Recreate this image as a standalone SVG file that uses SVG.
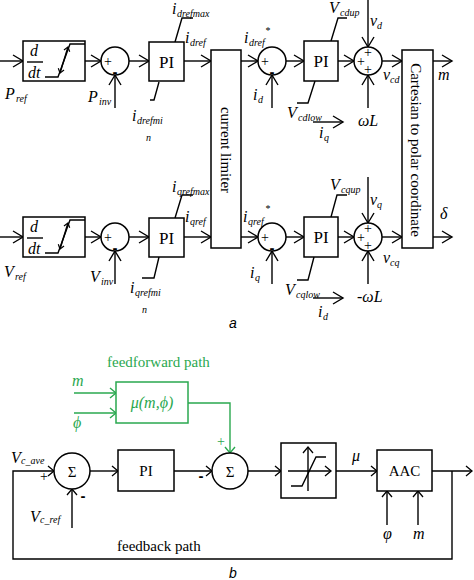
<svg xmlns="http://www.w3.org/2000/svg" width="474" height="580" viewBox="0 0 474 580">
<style>
.ln{stroke:#000;stroke-width:1.4;fill:none}
.bx{stroke:#000;stroke-width:1.5;fill:#fff}
.gl{stroke:#2aa84f;stroke-width:1.4;fill:none}
.gb{stroke:#2aa84f;stroke-width:1.5;fill:#fff}
.t{font-family:"Liberation Serif",serif;font-size:16px;font-style:italic}
.s{font-family:"Liberation Serif",serif;font-size:10px;font-style:italic}
.r{font-family:"Liberation Serif",serif;font-size:17px}
.rb{font-family:"Liberation Serif",serif;font-size:15px}
.sg{font-family:"Liberation Serif",serif;font-size:14px}
.mi{font-family:"Liberation Sans",sans-serif;font-size:15px;font-weight:bold}
.cap{font-family:"Liberation Sans",sans-serif;font-size:14px;font-style:italic}
.g{fill:#2aa84f}
</style>
<defs>
<marker id="ah" viewBox="-11 -7 12 14" refX="0" refY="0" markerWidth="12" markerHeight="14" markerUnits="userSpaceOnUse" orient="auto" overflow="visible"><path d="M-10,-6 L0,0 L-10,6" fill="none" stroke="#000" stroke-width="1.4"/></marker>
<marker id="bh" viewBox="-7 -6 8 12" refX="0" refY="0" markerWidth="8" markerHeight="12" markerUnits="userSpaceOnUse" orient="auto" overflow="visible"><path d="M-6,-5 L0,0 L-6,5" fill="none" stroke="#000" stroke-width="1.3"/></marker>
<marker id="gh" viewBox="-7 -6 8 12" refX="0" refY="0" markerWidth="8" markerHeight="12" markerUnits="userSpaceOnUse" orient="auto" overflow="visible"><path d="M-6,-5 L0,0 L-6,5" fill="none" stroke="#2aa84f" stroke-width="1.4"/></marker>
<marker id="sm" viewBox="-5 -4 6 8" refX="0" refY="0" markerWidth="6" markerHeight="8" markerUnits="userSpaceOnUse" orient="auto-start-reverse" overflow="visible"><path d="M-4,-3 L0,0 L-4,3" fill="none" stroke="#000" stroke-width="1.2"/></marker>
</defs>

<!-- ===== Part a : connectors ===== -->
<g id="connectors-a" class="ln">
<line x1="0" y1="61" x2="23" y2="61" marker-end="url(#ah)"/>
<line x1="85" y1="61" x2="101" y2="61" marker-end="url(#ah)"/>
<line x1="115" y1="108" x2="115" y2="75" marker-end="url(#ah)"/>
<line x1="129" y1="61" x2="149" y2="61" marker-end="url(#ah)"/>
<line x1="184" y1="61" x2="211" y2="61" marker-end="url(#ah)"/>
<line x1="241" y1="61" x2="258" y2="61" marker-end="url(#ah)"/>
<line x1="272" y1="108" x2="272" y2="75" marker-end="url(#ah)"/>
<line x1="286" y1="61" x2="304" y2="61" marker-end="url(#ah)"/>
<line x1="338" y1="61" x2="354" y2="61" marker-end="url(#ah)"/>
<line x1="368" y1="0" x2="368" y2="47" marker-end="url(#ah)"/>
<line x1="368" y1="108" x2="368" y2="75" marker-end="url(#ah)"/>
<line x1="313" y1="122" x2="343" y2="122" marker-end="url(#ah)"/>
<line x1="382" y1="61" x2="402" y2="61" marker-end="url(#ah)"/>
<line x1="433" y1="61" x2="452" y2="61" marker-end="url(#ah)"/>
<polyline points="175,42 182,18 193,18"/>
<polyline points="159,82 154,100 150,100"/>
<polyline points="331,41 338,18 347,18"/>
<polyline points="315,81 308,103 297,103"/>

<line x1="0" y1="237" x2="23" y2="237" marker-end="url(#ah)"/>
<line x1="85" y1="237" x2="101" y2="237" marker-end="url(#ah)"/>
<line x1="115" y1="284" x2="115" y2="251" marker-end="url(#ah)"/>
<line x1="129" y1="237" x2="149" y2="237" marker-end="url(#ah)"/>
<line x1="184" y1="237" x2="211" y2="237" marker-end="url(#ah)"/>
<line x1="241" y1="237" x2="258" y2="237" marker-end="url(#ah)"/>
<line x1="272" y1="284" x2="272" y2="251" marker-end="url(#ah)"/>
<line x1="286" y1="237" x2="304" y2="237" marker-end="url(#ah)"/>
<line x1="338" y1="237" x2="354" y2="237" marker-end="url(#ah)"/>
<line x1="368" y1="177" x2="368" y2="223" marker-end="url(#ah)"/>
<line x1="368" y1="284" x2="368" y2="251" marker-end="url(#ah)"/>
<line x1="313" y1="298" x2="343" y2="298" marker-end="url(#ah)"/>
<line x1="382" y1="237" x2="402" y2="237" marker-end="url(#ah)"/>
<line x1="433" y1="237" x2="452" y2="237" marker-end="url(#ah)"/>
<polyline points="175,218 182,195 193,195"/>
<polyline points="159,257 154,278 142,278"/>
<polyline points="331,217 337,195 347,195"/>
<polyline points="314,257 308,280 297,280"/>
</g>

<!-- ===== Part a : nodes, row 1 ===== -->
<g id="ddt1">
<rect class="bx" x="23" y="41" width="62" height="40"/>
<text class="t" x="30" y="56">d</text>
<line class="ln" x1="27" y1="62" x2="43" y2="62"/>
<text class="t" x="28" y="78">dt</text>
<polyline class="ln" points="45,77 58,77 70,44 85,44"/>
<line class="ln" x1="60" y1="73" x2="68" y2="47" marker-start="url(#sm)" marker-end="url(#sm)"/>
</g>
<g id="sum1">
<circle class="bx" cx="115" cy="61" r="14"/>
<text class="sg" x="108" y="66" text-anchor="middle">+</text>
<text class="mi" x="115" y="77" text-anchor="middle">-</text>
</g>
<g id="pi1">
<rect class="bx" x="149" y="42" width="35" height="39"/>
<text class="r" x="166.5" y="68" text-anchor="middle">PI</text>
</g>
<g id="limiter">
<rect class="bx" x="211" y="50" width="30" height="198"/>
<text class="rb" x="221" y="150" text-anchor="middle" font-size="14.5" transform="rotate(90 221 150)">current limiter</text>
</g>
<g id="sum2">
<circle class="bx" cx="272" cy="61" r="14"/>
<text class="sg" x="265" y="66" text-anchor="middle">+</text>
<text class="mi" x="272" y="77" text-anchor="middle">-</text>
</g>
<g id="pi2">
<rect class="bx" x="304" y="41" width="34" height="40"/>
<text class="r" x="321" y="67" text-anchor="middle">PI</text>
</g>
<g id="sum3">
<circle class="bx" cx="368" cy="61" r="14"/>
<text class="sg" x="368" y="57" text-anchor="middle">+</text>
<text class="sg" x="361" y="66" text-anchor="middle">+</text>
<text class="sg" x="368" y="74" text-anchor="middle">+</text>
</g>
<g id="cartesian">
<rect class="bx" x="402" y="50" width="31" height="198"/>
<text class="rb" x="411" y="150" text-anchor="middle" font-size="15.5" transform="rotate(90 411 150)">Cartesian to polar coordinate</text>
</g>

<!-- ===== Part a : nodes, row 2 ===== -->
<g id="ddt2">
<rect class="bx" x="23" y="217" width="62" height="40"/>
<text class="t" x="30" y="232">d</text>
<line class="ln" x1="27" y1="238" x2="43" y2="238"/>
<text class="t" x="28" y="254">dt</text>
<polyline class="ln" points="45,253 58,253 70,220 85,220"/>
<line class="ln" x1="60" y1="249" x2="68" y2="223" marker-start="url(#sm)" marker-end="url(#sm)"/>
</g>
<g id="sum4">
<circle class="bx" cx="115" cy="237" r="14"/>
<text class="sg" x="108" y="242" text-anchor="middle">+</text>
<text class="mi" x="115" y="253" text-anchor="middle">-</text>
</g>
<g id="pi3">
<rect class="bx" x="149" y="218" width="35" height="39"/>
<text class="r" x="166.5" y="244" text-anchor="middle">PI</text>
</g>
<g id="sum5">
<circle class="bx" cx="272" cy="237" r="14"/>
<text class="sg" x="265" y="242" text-anchor="middle">+</text>
<text class="mi" x="272" y="253" text-anchor="middle">-</text>
</g>
<g id="pi4">
<rect class="bx" x="304" y="217" width="34" height="40"/>
<text class="r" x="321" y="243" text-anchor="middle">PI</text>
</g>
<g id="sum6">
<circle class="bx" cx="368" cy="237" r="14"/>
<text class="sg" x="368" y="233" text-anchor="middle">+</text>
<text class="sg" x="361" y="242" text-anchor="middle">+</text>
<text class="sg" x="368" y="250" text-anchor="middle">+</text>
</g>

<!-- ===== Part a : labels ===== -->
<g id="labels-a">
<text class="t" x="5" y="99">P</text><text class="s" x="16" y="102">ref</text>
<text class="t" x="88" y="102">P</text><text class="s" x="99" y="105">inv</text>
<text class="t" x="172" y="14">i</text><text class="s" x="177" y="17">drefmax</text>
<text class="t" x="185" y="43">i</text><text class="s" x="190" y="46">dref</text>
<text class="t" x="132" y="121">i</text><text class="s" x="137" y="124">drefmi</text>
<text class="s" x="146" y="141">n</text>
<text class="t" x="244" y="43">i</text><text class="s" x="249" y="46">dref</text><text class="s" x="265" y="34" font-style="normal">*</text>
<text class="t" x="253" y="100">i</text><text class="s" x="258" y="103">d</text>
<text class="t" x="329" y="13">V</text><text class="s" x="340" y="16">cdup</text>
<text class="t" x="287" y="118">V</text><text class="s" x="298" y="121">cdlow</text>
<text class="t" x="319" y="138">i</text><text class="s" x="324" y="141">q</text>
<text class="t" x="358" y="126">ωL</text>
<text class="t" x="370" y="26">v</text><text class="s" x="377" y="29">d</text>
<text class="t" x="383" y="80">v</text><text class="s" x="390" y="83">cd</text>
<text class="t" x="438" y="80">m</text>

<text class="t" x="4" y="277">V</text><text class="s" x="15" y="280">ref</text>
<text class="t" x="90" y="282">V</text><text class="s" x="101" y="285">inv</text>
<text class="t" x="172" y="192">i</text><text class="s" x="177" y="195">qrefmax</text>
<text class="t" x="185" y="222">i</text><text class="s" x="190" y="225">qref</text>
<text class="t" x="130" y="293">i</text><text class="s" x="135" y="296">qrefmi</text>
<text class="s" x="142" y="313">n</text>
<text class="t" x="243" y="222">i</text><text class="s" x="248" y="225">qref</text><text class="s" x="265" y="212" font-style="normal">*</text>
<text class="t" x="250" y="278">i</text><text class="s" x="255" y="281">q</text>
<text class="t" x="330" y="190">V</text><text class="s" x="341" y="193">cqup</text>
<text class="t" x="285" y="295">V</text><text class="s" x="296" y="298">cqlow</text>
<text class="t" x="318" y="317">i</text><text class="s" x="323" y="320">d</text>
<text class="t" x="357" y="302"><tspan font-style="normal">-</tspan>ωL</text>
<text class="t" x="370" y="205">v</text><text class="s" x="377" y="208">q</text>
<text class="t" x="383" y="263">v</text><text class="s" x="390" y="266">cq</text>
<text class="t" x="440" y="219">δ</text>
<text class="cap" x="229" y="328">a</text>
</g>

<!-- ===== Part b : connectors ===== -->
<g id="connectors-b" class="ln">
<polyline points="452,471 452,559 13,559 13,471 54,471" marker-end="url(#bh)"/>
<line x1="90" y1="471" x2="118" y2="471" marker-end="url(#bh)"/>
<line x1="174" y1="471" x2="212" y2="471" marker-end="url(#bh)"/>
<line x1="248" y1="471" x2="281" y2="471" marker-end="url(#bh)"/>
<line x1="336" y1="471" x2="377" y2="471" marker-end="url(#bh)"/>
<line x1="432" y1="471" x2="472" y2="471" marker-end="url(#bh)"/>
<line x1="72" y1="528" x2="72" y2="489" marker-end="url(#bh)"/>
<line x1="387" y1="525" x2="387" y2="491" marker-end="url(#bh)"/>
<line x1="418" y1="525" x2="418" y2="491" marker-end="url(#bh)"/>
</g>
<g id="connectors-ff" class="gl">
<line x1="74" y1="393" x2="116" y2="393" marker-end="url(#gh)"/>
<line x1="74" y1="413" x2="116" y2="413" marker-end="url(#gh)"/>
<polyline points="188,403 230,403 230,453" marker-end="url(#gh)"/>
</g>

<!-- ===== Part b : nodes ===== -->
<g id="ff-block">
<rect class="gb" x="116" y="382" width="72" height="41"/>
<text class="t g" x="152" y="408" text-anchor="middle" font-size="15">μ(m,ϕ)</text>
</g>
<g id="sigma1">
<circle class="bx" cx="72" cy="471" r="18"/>
<text class="rb" x="72" y="477" text-anchor="middle">Σ</text>
</g>
<g id="pi-b">
<rect class="bx" x="118" y="450" width="56" height="41"/>
<text class="rb" x="146" y="476" text-anchor="middle">PI</text>
</g>
<g id="sigma2">
<circle class="bx" cx="230" cy="471" r="18"/>
<text class="rb" x="230" y="477" text-anchor="middle">Σ</text>
</g>
<g id="saturation">
<rect class="bx" x="281" y="443" width="55" height="55"/>
<line class="ln" x1="288" y1="471" x2="331" y2="471" marker-end="url(#bh)"/>
<line class="ln" x1="308" y1="491" x2="308" y2="447" marker-end="url(#bh)"/>
<polyline class="ln" points="291,486 302,486 316,457 326,457"/>
</g>
<g id="aac">
<rect class="bx" x="377" y="450" width="55" height="41"/>
<text class="rb" x="404.5" y="476" text-anchor="middle">AAC</text>
</g>

<!-- ===== Part b : labels ===== -->
<g id="labels-b">
<text class="rb g" x="107" y="367">feedforward path</text>
<text class="t g" x="72" y="386" font-size="15">m</text>
<text class="t g" x="73" y="428" font-size="15">ϕ</text>
<text class="sg g" x="221" y="446" text-anchor="middle">+</text>
<text class="t" x="11" y="463">V</text><text class="s" x="21" y="464" font-style="normal">c_ave</text>
<text class="sg" x="44" y="481" text-anchor="middle">+</text>
<text class="mi" x="83" y="501" text-anchor="middle" font-size="12">-</text>
<text class="t" x="30" y="522">V</text><text class="s" x="40" y="523" font-style="normal">c_ref</text>
<text class="mi" x="201" y="481" text-anchor="middle" font-size="12">-</text>
<text class="t" x="352" y="461" font-size="15">μ</text>
<text class="t" x="383" y="539" font-size="15">φ</text>
<text class="t" x="413" y="539" font-size="15">m</text>
<text class="rb" x="117" y="551">feedback path</text>
<text class="cap" x="229" y="578">b</text>
</g>
</svg>
